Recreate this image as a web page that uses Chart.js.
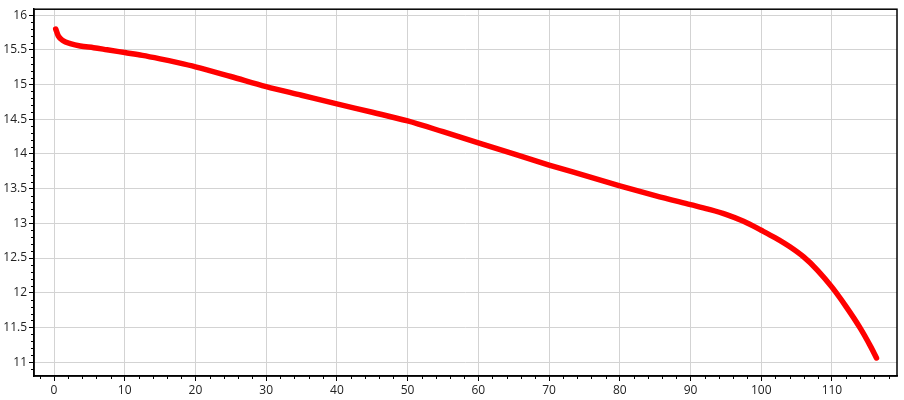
<!DOCTYPE html>
<html>
<head>
<meta charset="utf-8">
<script src="https://cdn.jsdelivr.net/npm/chart.js@4"></script>
<style>
  html, body { margin: 0; padding: 0; background: #fff; }
  #wrap { width: 904px; height: 400px; }
</style>
</head>
<body>
<div id="wrap"><canvas id="chart" width="904" height="400"></canvas></div>
<script>
// Values
const timeValues = [0.24, 0.6, 1.3, 2.3, 3.7, 5.6, 7.5, 10, 12.5, 15, 17.5, 20, 25, 30, 35, 40, 45, 50, 55, 60, 65, 70, 75, 80, 85, 90, 92.5, 95, 97.5, 100, 102, 104, 106, 108, 110, 112, 114, 115.5, 116.3];
const voltageValues = [15.80, 15.70, 15.63, 15.59, 15.555, 15.53, 15.50, 15.46, 15.42, 15.37, 15.315, 15.255, 15.115, 14.97, 14.845, 14.72, 14.60, 14.475, 14.32, 14.16, 14.00, 13.84, 13.69, 13.54, 13.40, 13.27, 13.205, 13.13, 13.03, 12.90, 12.79, 12.665, 12.515, 12.32, 12.08, 11.80, 11.49, 11.22, 11.06];

// Tick labels
const xTicks = [0, 10, 20, 30, 40, 50, 60, 70, 80, 90, 100, 110];
const yTicks = [11, 11.5, 12, 12.5, 13, 13.5, 14, 14.5, 15, 15.5, 16];

const points = timeValues.map((t, i) => ({ x: t, y: voltageValues[i] }));

// Frame around the plot plus the small minor ticks on both axes
const framePlugin = {
  id: 'frame',
  afterDraw(chart) {
    const { ctx, chartArea: a, scales } = chart;
    ctx.save();
    ctx.strokeStyle = '#000';
    ctx.lineWidth = 1;
    ctx.beginPath();
    // minor x ticks every 2
    for (let v = -2; v <= 118; v += 2) {
      if (v % 10 === 0) continue;
      const px = Math.round(scales.x.getPixelForValue(v)) + 0.5;
      ctx.moveTo(px, a.bottom);
      ctx.lineTo(px, a.bottom + 3);
    }
    // minor y ticks every 0.1
    for (let k = 109; k <= 160; k++) {
      if (k % 5 === 0) continue;
      const py = Math.round(scales.y.getPixelForValue(k / 10)) + 0.5;
      ctx.moveTo(a.left, py);
      ctx.lineTo(a.left - 3, py);
    }
    ctx.stroke();
    ctx.lineWidth = 1.5;
    ctx.strokeRect(a.left, a.top, a.right - a.left, a.bottom - a.top);
    ctx.restore();
  }
};

const ctx = document.getElementById('chart').getContext('2d');
new Chart(ctx, {
  type: 'scatter',
  data: {
    datasets: [{
      data: points,
      showLine: true,
      borderColor: '#ff0000',
      backgroundColor: '#ff0000',
      borderWidth: 5.5,
      borderCapStyle: 'round',
      borderJoinStyle: 'round',
      cubicInterpolationMode: 'monotone',
      pointRadius: 0
    }]
  },
  options: {
    responsive: false,
    animation: false,
    layout: { padding: { top: 5, right: 7, left: 0, bottom: 0 } },
    plugins: {
      legend: { display: false },
      tooltip: { enabled: false }
    },
    scales: {
      x: {
        type: 'linear',
        min: -2.83,
        max: 119.2,
        afterBuildTicks: scale => { scale.ticks = xTicks.map(v => ({ value: v })); },
        afterFit: scale => { scale.height = 24; },
        grid: { color: '#d3d3d3', lineWidth: 1, tickColor: '#000', tickLength: 5 },
        border: { color: '#000', width: 1.5 },
        ticks: { color: '#222', padding: 2, maxRotation: 0, font: { family: 'Open Sans', size: 12 } }
      },
      y: {
        type: 'linear',
        min: 10.8,
        max: 16.085,
        afterBuildTicks: scale => { scale.ticks = yTicks.map(v => ({ value: v })); },
        afterFit: scale => { scale.width = 34; },
        grid: { color: '#d3d3d3', lineWidth: 1, tickColor: '#000', tickLength: 5 },
        border: { color: '#000', width: 1.5 },
        ticks: {
          color: '#222',
          padding: 2,
          font: { family: 'Open Sans', size: 12 },
          callback: value => String(value)
        }
      }
    }
  },
  plugins: [framePlugin]
});
</script>
</body>
</html>
